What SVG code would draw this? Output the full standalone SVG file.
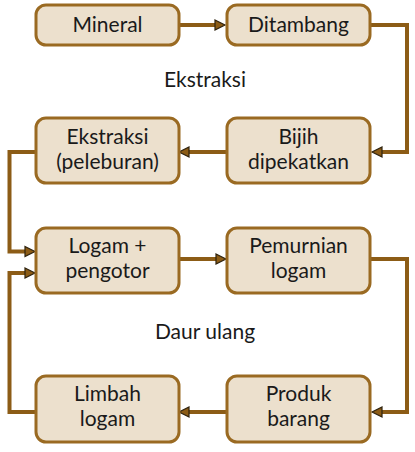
<svg xmlns="http://www.w3.org/2000/svg" width="415" height="452" viewBox="0 0 415 452">
<style>
.box{fill:#ece0cd;stroke:#9a6a22;stroke-width:3}
.t{font-family:Lato,"Open Sans",sans-serif;font-size:21px;fill:#1a1a1a;text-anchor:middle}
.c{fill:none;stroke:#8c5c16;stroke-width:4;stroke-linejoin:miter;marker-end:url(#ah)}
</style>
<defs>
<marker id="ah" viewBox="0 0 10 10" refX="0" refY="5" markerWidth="10" markerHeight="10" markerUnits="userSpaceOnUse" orient="auto" overflow="visible">
<path d="M0,0 L10,5 L0,10 Z" fill="#8c5c16" stroke="#2e220e" stroke-width="1.2"/>
</marker>
</defs>
<rect width="415" height="452" fill="#fff"/>
<g id="connectors">
<path class="c" d="M179,25 H215"/>
<path class="c" d="M370,25 H407 V152 H382"/>
<path class="c" d="M227,152 H189"/>
<path class="c" d="M36,152 H9.5 V251.5 H25"/>
<path class="c" d="M179,259 H216"/>
<path class="c" d="M370,259 H407 V412 H382"/>
<path class="c" d="M227,412 H189"/>
<path class="c" d="M36,412 H9.5 V273 H25"/>
</g>
<g id="label-ekstraksi"><text class="t" x="205" y="87">Ekstraksi</text></g>
<g id="label-daur-ulang"><text class="t" x="205" y="339">Daur ulang</text></g>
<g id="mineral"><rect class="box" x="36" y="5" width="143" height="40" rx="10"/><text class="t" x="107.5" y="32">Mineral</text></g>
<g id="ditambang"><rect class="box" x="227" y="5" width="143" height="40" rx="10"/><text class="t" x="298.5" y="32">Ditambang</text></g>
<g id="ekstraksi-peleburan"><rect class="box" x="36" y="118" width="143" height="65" rx="10"/><text class="t" x="107.5" y="143.5">Ekstraksi</text><text class="t" x="107.5" y="169">(peleburan)</text></g>
<g id="bijih"><rect class="box" x="227" y="118" width="143" height="65" rx="10"/><text class="t" x="298.5" y="143.5">Bijih</text><text class="t" x="298.5" y="169">dipekatkan</text></g>
<g id="logam-pengotor"><rect class="box" x="36" y="228" width="143" height="65" rx="10"/><text class="t" x="107.5" y="252.5">Logam +</text><text class="t" x="107.5" y="278">pengotor</text></g>
<g id="pemurnian"><rect class="box" x="227" y="228" width="143" height="65" rx="10"/><text class="t" x="298.5" y="252.5">Pemurnian</text><text class="t" x="298.5" y="278">logam</text></g>
<g id="limbah"><rect class="box" x="36" y="376" width="143" height="66" rx="10"/><text class="t" x="107.5" y="400.5">Limbah</text><text class="t" x="107.5" y="426">logam</text></g>
<g id="produk"><rect class="box" x="227" y="376" width="143" height="66" rx="10"/><text class="t" x="298.5" y="400.5">Produk</text><text class="t" x="298.5" y="426">barang</text></g>
</svg>
